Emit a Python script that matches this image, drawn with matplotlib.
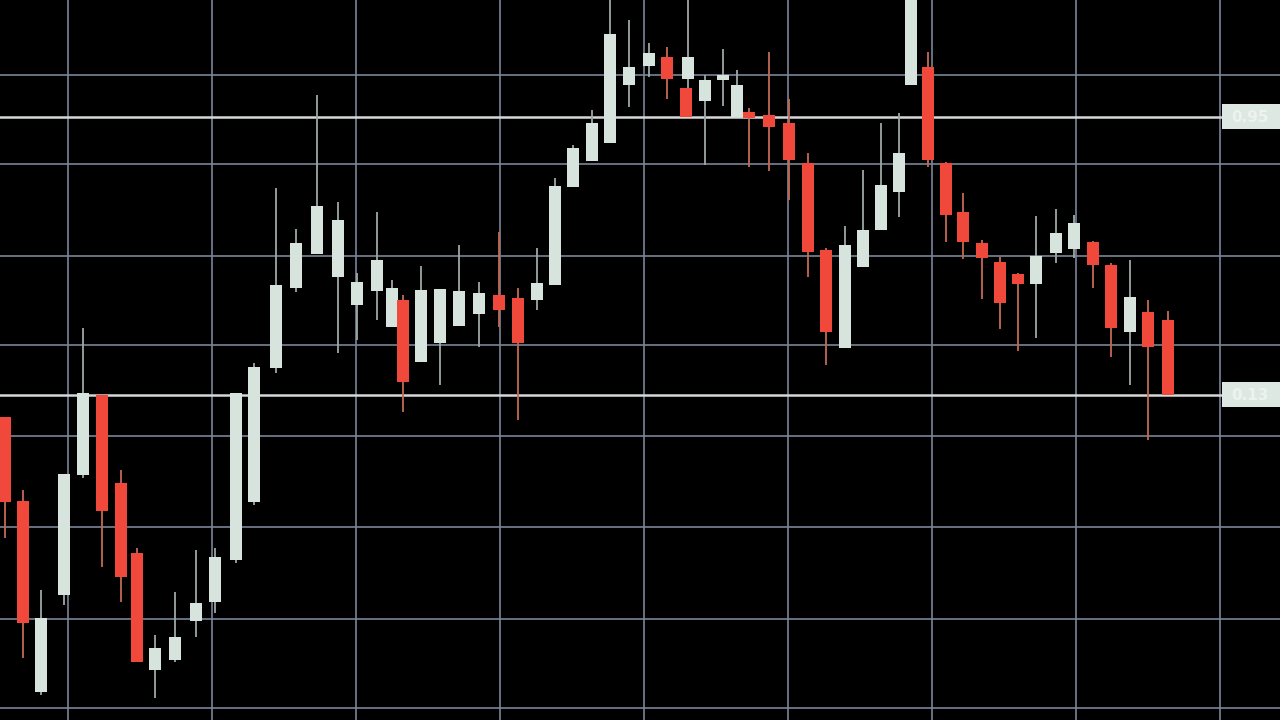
import matplotlib
matplotlib.use("Agg")
import matplotlib.pyplot as plt
from matplotlib.patches import Rectangle

# candle times (irregular spacing as seen in the photo)
t = [5, 23, 41, 64, 83, 102, 121, 137, 155, 175, 196, 215, 236, 254, 276, 296,
     317, 338, 357, 377, 392, 403, 421, 440, 459, 479, 499, 518, 537, 555, 573,
     592, 610, 629, 649, 667, 686, 688, 705, 723, 737, 749, 769, 789, 808, 826,
     845, 863, 881, 899, 911, 928, 946, 963, 982, 1000, 1018, 1036, 1056, 1074,
     1093, 1111, 1130, 1148, 1168]

opens = [303, 219, 28, 125, 245, 325, 237, 167, 50, 60, 99, 118, 160, 218, 352, 432,
         466, 443, 415, 429, 393, 420, 358, 377, 394, 406, 425, 422, 420, 435, 533,
         559, 577, 635, 654, 663, 632, 641, 619, 640, 603, 608, 605, 597, 557, 470,
         372, 453, 490, 528, 635, 653, 557, 508, 477, 458, 446, 436, 467, 471,
         478, 455, 388, 408, 400]
highs = [303, 230, 130, 246, 392, 325, 250, 172, 85, 128, 170, 172, 327, 357, 532, 491,
         625, 518, 447, 508, 440, 425, 454, 431, 475, 438, 488, 432, 472, 542, 575,
         610, 720, 700, 677, 673, 632, 720, 645, 671, 650, 612, 668, 621, 567, 472,
         494, 550, 597, 607, 730, 668, 558, 527, 480, 463, 447, 504, 511, 505,
         479, 457, 460, 420, 409]
lows = [182, 62, 25, 115, 242, 153, 118, 58, 22, 58, 83, 107, 157, 215, 347, 428,
        466, 367, 380, 400, 393, 308, 358, 335, 394, 373, 393, 300, 410, 435, 533,
        559, 577, 613, 643, 621, 603, 632, 555, 614, 603, 553, 549, 520, 443, 355,
        372, 453, 490, 503, 635, 553, 478, 461, 421, 391, 369, 382, 457, 462,
        432, 363, 335, 280, 325]
closes = [218, 97, 102, 246, 327, 209, 143, 58, 72, 83, 117, 163, 327, 353, 435, 477,
          514, 500, 438, 460, 432, 338, 430, 431, 429, 427, 410, 377, 437, 534, 572,
          597, 686, 653, 667, 641, 603, 663, 640, 645, 635, 602, 593, 560, 468, 388,
          475, 490, 535, 567, 730, 560, 505, 478, 462, 417, 436, 464, 487, 497,
          455, 392, 423, 373, 325]

# horizontal support / resistance levels and their tags
levels = [603, 325]
level_tags = ["0.95", "0.13"]

grid_x = [68, 212, 356, 500, 644, 788, 932, 1076, 1220]
grid_y = [645, 556, 464, 375, 284, 193, 101, 12]

UP = "#d6e4dd"
DOWN = "#f0493b"
UP_WICK = "#9ea8a6"
DOWN_WICK = "#c26a55"

fig = plt.figure(figsize=(12.8, 7.2), dpi=100, facecolor="black")
ax = fig.add_axes([0, 0, 1, 1])
ax.set_facecolor("black")
ax.set_xlim(0, 1280)
ax.set_ylim(0, 720)
ax.axis("off")

# grid
for gx in grid_x:
    ax.axvline(gx, color="#7a8598", lw=1.2, zorder=1)
for gy in grid_y:
    ax.axhline(gy, color="#7a8598", lw=1.2, zorder=1)

# level lines
for lv, tag in zip(levels, level_tags):
    ax.plot([0, 1222], [lv, lv], color="#d4d8d8", lw=1.8, zorder=2)
    ax.add_patch(Rectangle((1222, lv - 12), 70, 25, facecolor="#dde8e3",
                           edgecolor="none", zorder=5))
    ax.text(1250, lv, tag, color="#edf3f0", fontsize=11, fontweight="bold",
            ha="center", va="center", zorder=6)

# candles
for x, o, h, l, c in zip(t, opens, highs, lows, closes):
    up = c >= o
    body_col = UP if up else DOWN
    wick_col = UP_WICK if up else DOWN_WICK
    ax.vlines(x, l, h, color=wick_col, lw=1.3, zorder=3)
    ax.bar(x, abs(c - o), bottom=min(o, c), width=12, color=body_col,
           edgecolor="none", zorder=4)

fig.savefig("out.png", dpi=100, facecolor="black")
